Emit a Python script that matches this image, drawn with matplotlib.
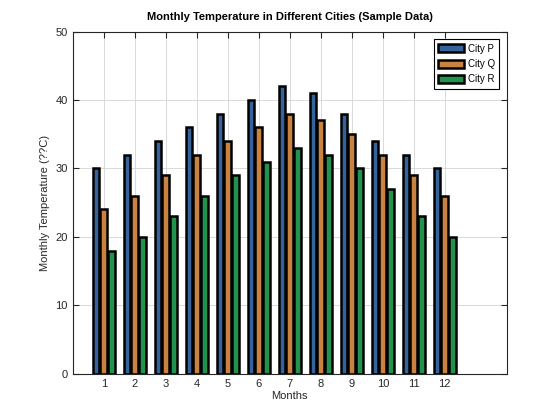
import matplotlib
matplotlib.use('Agg')
import matplotlib.pyplot as plt
import numpy as np

plt.rcParams['font.family'] = ['Liberation Sans', 'DejaVu Sans']

# data
months = [1, 2, 3, 4, 5, 6, 7, 8, 9, 10, 11, 12]
city_p = [30, 32, 34, 36, 38, 40, 42, 41, 38, 34, 32, 30]
city_q = [24, 26, 29, 32, 34, 36, 38, 37, 35, 32, 29, 26]
city_r = [18, 20, 23, 26, 29, 31, 33, 32, 30, 27, 23, 20]
names = ['City P', 'City Q', 'City R']
colors = ['#36649a', '#c9823f', '#22934f']

fig = plt.figure(figsize=(5.6, 4.2), dpi=100)
ax = fig.add_axes([0.13, 0.11, 0.775, 0.815])

x = np.array(months)
w = 0.22
for i, (vals, name, col) in enumerate(zip([city_p, city_q, city_r], names, colors)):
    ax.bar(x + (i - 1) * 0.25, vals, w, color=col, edgecolor='black',
           linewidth=1.8, label=name, zorder=3)

ax.set_xlim(0, 14)
ax.set_ylim(0, 50)
ax.set_xticks(months)
ax.set_yticks(range(0, 51, 10))
ax.grid(True, color='#d9d9d9', linewidth=0.7, zorder=0)
ax.tick_params(direction='in', top=True, right=True, labelsize=8, length=4, colors='#262626')
for s in ax.spines.values():
    s.set_color('#262626')
    s.set_linewidth(0.8)

ax.set_xlabel('Months', fontsize=8, labelpad=2, color='#262626')
ax.set_ylabel('Monthly Temperature (??C)', fontsize=8, color='#262626')
ax.set_title('Monthly Temperature in Different Cities (Sample Data)', fontsize=8,
             fontweight='bold', pad=8)

leg = ax.legend(loc='upper right', fontsize=7, fancybox=False, framealpha=1,
                edgecolor='black', handlelength=2.6, handleheight=0.9,
                borderpad=0.45, labelspacing=0.55, handletextpad=0.4,
                borderaxespad=0.8)
leg.get_frame().set_linewidth(0.8)

fig.savefig('out.png', dpi=100)
